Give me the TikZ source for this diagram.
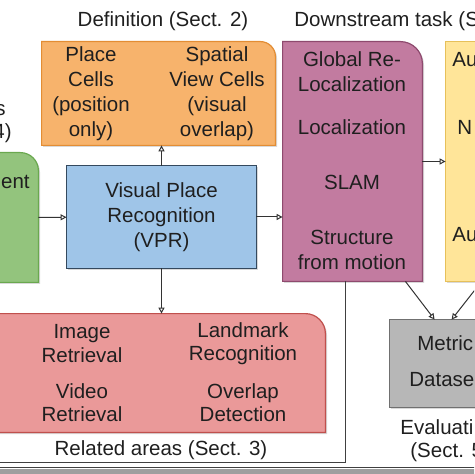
\documentclass[tikz,border=0pt]{standalone}
\usepackage{fontspec}
\setmainfont{Liberation Sans}
\usepackage{xcolor}
\usetikzlibrary{arrows.meta, positioning, backgrounds, calc, shadows}

\definecolor{filldefn}{HTML}{F7B36C}
\definecolor{linedefn}{HTML}{E38D34}
\definecolor{fillvpr}{HTML}{9FC5E8}
\definecolor{linevpr}{HTML}{34495E}
\definecolor{filltask}{HTML}{C27BA0}
\definecolor{linetask}{HTML}{8E4A6E}
\definecolor{fillenv}{HTML}{93C47D}
\definecolor{lineenv}{HTML}{6AA84F}
\definecolor{fillrel}{HTML}{EA9999}
\definecolor{linerel}{HTML}{C0504D}
\definecolor{fillapp}{HTML}{FFE599}
\definecolor{lineapp}{HTML}{E6C05A}
\definecolor{filleval}{HTML}{B7B7B7}
\definecolor{lineeval}{HTML}{707070}

\tikzstyle{area} = [rectangle, inner sep=0pt, draw=none]
\tikzstyle{txt} = [
    inner sep=0pt, align=center, text=black!88,
    font=\fontsize{10.25pt}{12.5pt}\selectfont]
\tikzstyle{panel} = [
    line width=0.6pt,
    drop shadow={shadow xshift=0.8pt, shadow yshift=-0.8pt, opacity=0.3}]
\tikzstyle{arrow} = [line width=0.5pt, draw=black!80,
    -{Triangle[open, length=3pt, width=3pt]}]
\tikzstyle{frame} = [line width=0.5pt, draw=black!75]

\begin{document}
\begin{tikzpicture}[x=0.5pt, y=-0.5pt]

  \useasboundingbox (0,0) rectangle (474,474);
  \clip (0,0) rectangle (474,474);

  % areas
  \node (defn) [area, minimum width=116.5pt, minimum height=51.5pt] at (158.5,93.5) {};
  \node (env)  [area, minimum width=50pt, minimum height=64.5pt] at (-12,217.5) {};
  \node (vpr)  [area, txt, minimum width=94.5pt, minimum height=51pt] at (161.5,217)
      {Visual Place\\Recognition\\(VPR)};
  \node (task) [area, minimum width=69.5pt, minimum height=119.5pt] at (352.5,161.5) {};
  \node (app)  [area, minimum width=57pt, minimum height=119.5pt] at (503,161.5) {};
  \node (rel)  [area, minimum width=172.5pt, minimum height=59pt] at (152.5,373) {};
  \node (eval) [area, minimum width=65pt, minimum height=43.5pt] at (455,363.5) {};

  \begin{scope}[on background layer]
    \foreach \n/\r in {defn/7.5pt, env/9pt, vpr/0pt, task/11pt, app/0pt, rel/10pt, eval/0pt}
      \draw [panel, fill=fill\n, draw=line\n] (\n.south west) -- (\n.north west)
          [rounded corners=\r] -- (\n.north east) [sharp corners] -- (\n.south east) -- cycle;
  \end{scope}

  % headings
  \node (defn-t) [txt] at (163,21) {Definition (Sect. 2)};
  \node (task-t) [txt, anchor=west] at (294,21) {Downstream task (S};
  \node (rel-t)  [txt] at (161,450) {Related areas (Sect. 3)};
  \node (env-t1) [txt, anchor=east] at (6,110) {s};
  \node (env-t2) [txt, anchor=east] at (12,133) {4)};

  % contents
  \node (env-t3) [txt, anchor=east] at (30,182) {ent};
  \node (place) [txt] at (91,94) {Place\\Cells\\(position\\only)};
  \node (view)  [txt] at (217,94) {Spatial\\View Cells\\(visual\\overlap)};
  \node (reloc) [txt] at (352,72) {Global Re-\\Localization};
  \node (loc)   [txt] at (352,127) {Localization};
  \node (slam)  [txt] at (352,182) {SLAM};
  \node (sfm)   [txt] at (352,250) {Structure\\from motion};
  \node (app-t1) [txt, anchor=west] at (452,60) {Au};
  \node (app-t2) [txt, anchor=west] at (457,127) {N};
  \node (app-t3) [txt, anchor=west] at (452,235) {Au};
  \node (imgret) [txt, font=\fontsize{10.25pt}{11.75pt}\selectfont] at (82,343.5) {Image\\Retrieval};
  \node (vidret) [txt, font=\fontsize{10.25pt}{11.75pt}\selectfont] at (82,402.5) {Video\\Retrieval};
  \node (lmrec)  [txt, font=\fontsize{10.25pt}{11.75pt}\selectfont] at (243,343.5) {Landmark\\Recognition};
  \node (ovdet)  [txt, font=\fontsize{10.25pt}{11.75pt}\selectfont] at (243,402.5) {Overlap\\Detection};
  \node (eval-t1) [txt, anchor=west] at (417,343) {Metric};
  \node (eval-t2) [txt, anchor=west] at (409,380) {Datase};
  \node (eval-t3) [txt, anchor=west] at (400,427) {Evaluati};
  \node (eval-t4) [txt, anchor=west] at (410,452) {(Sect. 5};

  % connectors
  \draw [arrow] (env) -- (vpr);
  \draw [arrow] (vpr.north) -- (vpr.north |- defn.south);
  \draw [arrow] (vpr.south) -- (vpr.south |- rel.north);
  \draw [arrow] (vpr.east) -- (vpr.east -| task.west);
  \draw [arrow] (task) -- (app);
  \draw [arrow] ($(task.south east)+(-17,0)$) -- ($(eval.north west)+(45,0)$);
  \draw [arrow] ($(app.south west)+(36,0)$) -- ($(eval.north west)+(62,0)$);

  \draw [frame] ($(task.south)+(-7.5,0)$) |- (-10,462.5);
  \draw [frame] (-10,467) -- (484,467);
  \fill [gray!75] (-10,469) rectangle (484,480);

\end{tikzpicture}
\end{document}
